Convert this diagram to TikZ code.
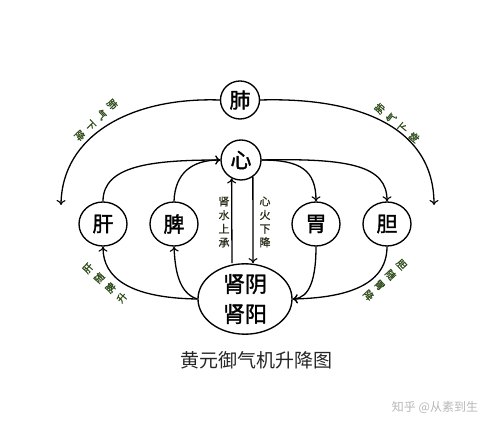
\documentclass[tikz,border=0pt]{standalone}
\usepackage{fontspec}
\newfontfamily\cjk{Noto Sans CJK SC}
\newfontfamily\cjkb[FakeBold=1.6]{Noto Sans CJK SC}
\newfontfamily\cjkm[FakeBold=0.8]{Noto Sans CJK SC}
\usetikzlibrary{shapes.geometric,arrows.meta}
\definecolor{lbl}{RGB}{45,75,25}
\definecolor{vlbl}{RGB}{40,45,25}
\begin{document}
\begin{tikzpicture}[x=1pt,y=1pt,
  organ/.style={draw, ellipse, line width=1.35pt, inner sep=0pt, font=\cjkb\fontsize{21}{24}\selectfont},
  flow/.style={line width=1.3pt, -{To[length=5pt,width=9pt,line width=1.1pt]}},
  arclbl/.style={text=lbl, align=center, inner sep=0pt, font=\cjkm\fontsize{10}{15}\selectfont},
  vlab/.style={text=vlbl, align=center, inner sep=0pt, font=\cjkm\fontsize{11}{13.7}\selectfont}]
\useasboundingbox (0,0) rectangle (500,428);
\fill[white] (0,0) rectangle (500,428);
% organs
\node[organ, minimum width=39pt, minimum height=38pt] (fei) at (240,328) {肺};
\node[organ, minimum width=40pt, minimum height=40pt] (xin) at (241,268) {心};
\node[organ, minimum width=48pt, minimum height=44pt] (gan) at (103,204) {肝};
\node[organ, minimum width=48pt, minimum height=44pt] (pi) at (174,204) {脾};
\node[organ, minimum width=48pt, minimum height=44pt] (wei) at (316,204) {胃};
\node[organ, minimum width=48pt, minimum height=44pt] (dan) at (387,204) {胆};
\node[organ, minimum width=94pt, minimum height=64pt, align=center,
      font=\cjkb\fontsize{22}{30}\selectfont] (shen) at (245,129) {肾阴\\肾阳};
% free ends of the lung arcs
\coordinate (lend) at (61,223);
\coordinate (rend) at (434,223);
\coordinate (xa) at (232,0);
\coordinate (xb) at (253,0);
% lung descending arcs
\draw[flow] (fei.west) .. controls (130,331) and (62,292) .. (lend);
\draw[flow] (fei.east) .. controls (360,331) and (434,300) .. (rend);
% to heart
\draw[flow] (gan.north) .. controls (103,262) and (150,268) .. (xin.west);
\draw[flow] (pi.north) .. controls (175,255) and (192,268) .. (xin.west);
% from heart
\draw[flow] (xin.east) .. controls (300,268) and (316,258) .. (wei.north);
\draw[flow] (xin.east) .. controls (350,270) and (387,262) .. (dan.north);
% kidney - heart
\draw[flow] (shen.north -| xa) -- (xin.243);
\draw[flow] (xin.305) -- (shen.north -| xb);
% kidney to liver / spleen
\draw[flow] (shen.west) .. controls (130,130) and (103,150) .. (gan.south);
\draw[flow] (shen.west) .. controls (178,135) and (175,160) .. (pi.south);
% stomach / gallbladder to kidney
\draw[flow] (wei.south) .. controls (316,150) and (310,130) .. (shen.east);
\draw[flow] (dan.south) .. controls (387,140) and (340,130) .. (shen.east);
% labels
\node[arclbl, rotate=-46] (l1) at (96,308) {肺\\气\\下\\降};
\node[arclbl, rotate=50] (l2) at (397,305) {肺\\气\\下\\降};
\node[arclbl, rotate=49] (l3) at (105,145) {肝\\随\\脾\\升};
\node[arclbl, rotate=-47] (l4) at (385,148) {胆\\随\\胃\\降};
\node[vlab] (v1) at (224,206) {肾\\水\\上\\承};
\node[vlab] (v2) at (265,206) {心\\火\\下\\降};
% title
\node[font=\cjk\fontsize{19}{22}\selectfont, text=black!85] (title) at (256,68) {黄元御气机升降图};
\node[font=\cjk\fontsize{12}{14}\selectfont, text=black!28] (wm) at (435,21) {知乎 @从素到生};
\end{tikzpicture}
\end{document}
